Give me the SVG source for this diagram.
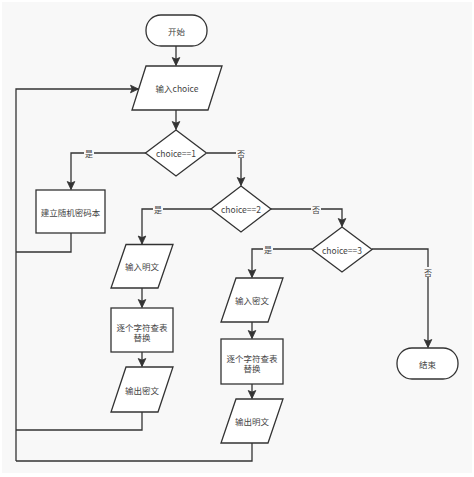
<svg xmlns="http://www.w3.org/2000/svg" width="474" height="477" viewBox="0 0 474 477">
<defs>
<style>
.n{fill:#ffffff;stroke:#333333;stroke-width:1.3}
.e{fill:none;stroke:#333333;stroke-width:1.3}
.t{font-family:"Noto Sans CJK SC","Liberation Sans",sans-serif;font-size:8.5px;fill:#444444;text-anchor:middle;dominant-baseline:central}
.l{font-family:"Noto Sans CJK SC","Liberation Sans",sans-serif;font-size:8px;fill:#444444;text-anchor:middle;dominant-baseline:central}
.lb{fill:#f8f8f8;stroke:none}
</style>
<marker id="a" markerUnits="userSpaceOnUse" markerWidth="10" markerHeight="10" viewBox="0 0 10 10" refX="9" refY="5" orient="auto">
<path d="M1,1.2 L9,5 L1,8.8 L2.6,5 Z" fill="#333333" stroke="#333333" stroke-width="0.8"/>
</marker>
</defs>
<rect x="0" y="0" width="474" height="477" fill="#ffffff"/>
<rect x="2" y="2" width="470" height="471" fill="#f8f8f8"/>

<g id="connectors">
<path class="e" d="M176,46 V65.5" marker-end="url(#a)"/>
<path class="e" d="M16,461 V89 H138.5" marker-end="url(#a)"/>
<path class="e" d="M176,110 V129.5" marker-end="url(#a)"/>
<path class="e" d="M146,153 H71 V189.5" marker-end="url(#a)"/>
<path class="e" d="M207,153 H241 V185.5" marker-end="url(#a)"/>
<path class="e" d="M71,233 V252 H16"/>
<path class="e" d="M211,209 H142 V244" marker-end="url(#a)"/>
<path class="e" d="M271,209 H342 V226.5" marker-end="url(#a)"/>
<path class="e" d="M312,249 H252 V277.5" marker-end="url(#a)"/>
<path class="e" d="M372,249 H428 V347.5" marker-end="url(#a)"/>
<path class="e" d="M142,288 V307.5" marker-end="url(#a)"/>
<path class="e" d="M142,352 V366.5" marker-end="url(#a)"/>
<path class="e" d="M142,412 V430 H16"/>
<path class="e" d="M252,322 V338.5" marker-end="url(#a)"/>
<path class="e" d="M252,384 V398.5" marker-end="url(#a)"/>
<path class="e" d="M252,443 V461 H16"/>
<rect class="lb" x="84" y="148" width="10" height="10"/>
<text class="l" x="89" y="153">是</text>
<rect class="lb" x="236" y="148" width="10" height="10"/>
<text class="l" x="241" y="153">否</text>
<rect class="lb" x="153" y="204" width="10" height="10"/>
<text class="l" x="158" y="209">是</text>
<rect class="lb" x="311" y="204" width="10" height="10"/>
<text class="l" x="316" y="209">否</text>
<rect class="lb" x="263" y="244" width="10" height="10"/>
<text class="l" x="268" y="249">是</text>
<rect class="lb" x="423" y="267" width="10" height="10"/>
<text class="l" x="428" y="272">否</text>
</g>

<g id="start">
<rect class="n" x="146" y="15" width="61" height="31" rx="15" ry="15"/>
<text class="t" x="176.5" y="30.5">开始</text>
</g>
<g id="input-choice">
<polygon class="n" points="146,66 222,66 208,110 132,110"/>
<text class="t" x="177" y="88">输入choice</text>
</g>
<g id="decision1">
<polygon class="n" points="176,130 206.5,153 176,176 145.5,153"/>
<text class="t" x="176" y="153">choice==1</text>
</g>
<g id="build-codebook">
<rect class="n" x="36" y="190" width="69" height="43"/>
<text class="t" x="70.5" y="211.5">建立随机密码本</text>
</g>
<g id="decision2">
<polygon class="n" points="241,186 271,209 241,232 211,209"/>
<text class="t" x="241" y="209">choice==2</text>
</g>
<g id="decision3">
<polygon class="n" points="342,227 372,249.5 342,272 312,249.5"/>
<text class="t" x="342" y="249.5">choice==3</text>
</g>
<g id="input-plain">
<polygon class="n" points="126,244.5 173,244.5 158,288 111,288"/>
<text class="t" x="142" y="266">输入明文</text>
</g>
<g id="encrypt">
<rect class="n" x="111" y="308" width="62" height="44"/>
<text class="t" x="142" y="326.5">逐个字符查表</text>
<text class="t" x="142" y="337">替换</text>
</g>
<g id="output-cipher">
<polygon class="n" points="126,367 173,367 158,412 111,412"/>
<text class="t" x="142" y="389.5">输出密文</text>
</g>
<g id="input-cipher">
<polygon class="n" points="236,278 283,278 268,322 221,322"/>
<text class="t" x="252" y="300">输入密文</text>
</g>
<g id="decrypt">
<rect class="n" x="221" y="339" width="62" height="45"/>
<text class="t" x="252" y="357.5">逐个字符查表</text>
<text class="t" x="252" y="368">替换</text>
</g>
<g id="output-plain">
<polygon class="n" points="236,399 283,399 268,443 221,443"/>
<text class="t" x="252" y="421">输出明文</text>
</g>
<g id="end">
<rect class="n" x="397" y="348" width="61" height="31" rx="15" ry="15"/>
<text class="t" x="427.5" y="363.5">结束</text>
</g>
</svg>
